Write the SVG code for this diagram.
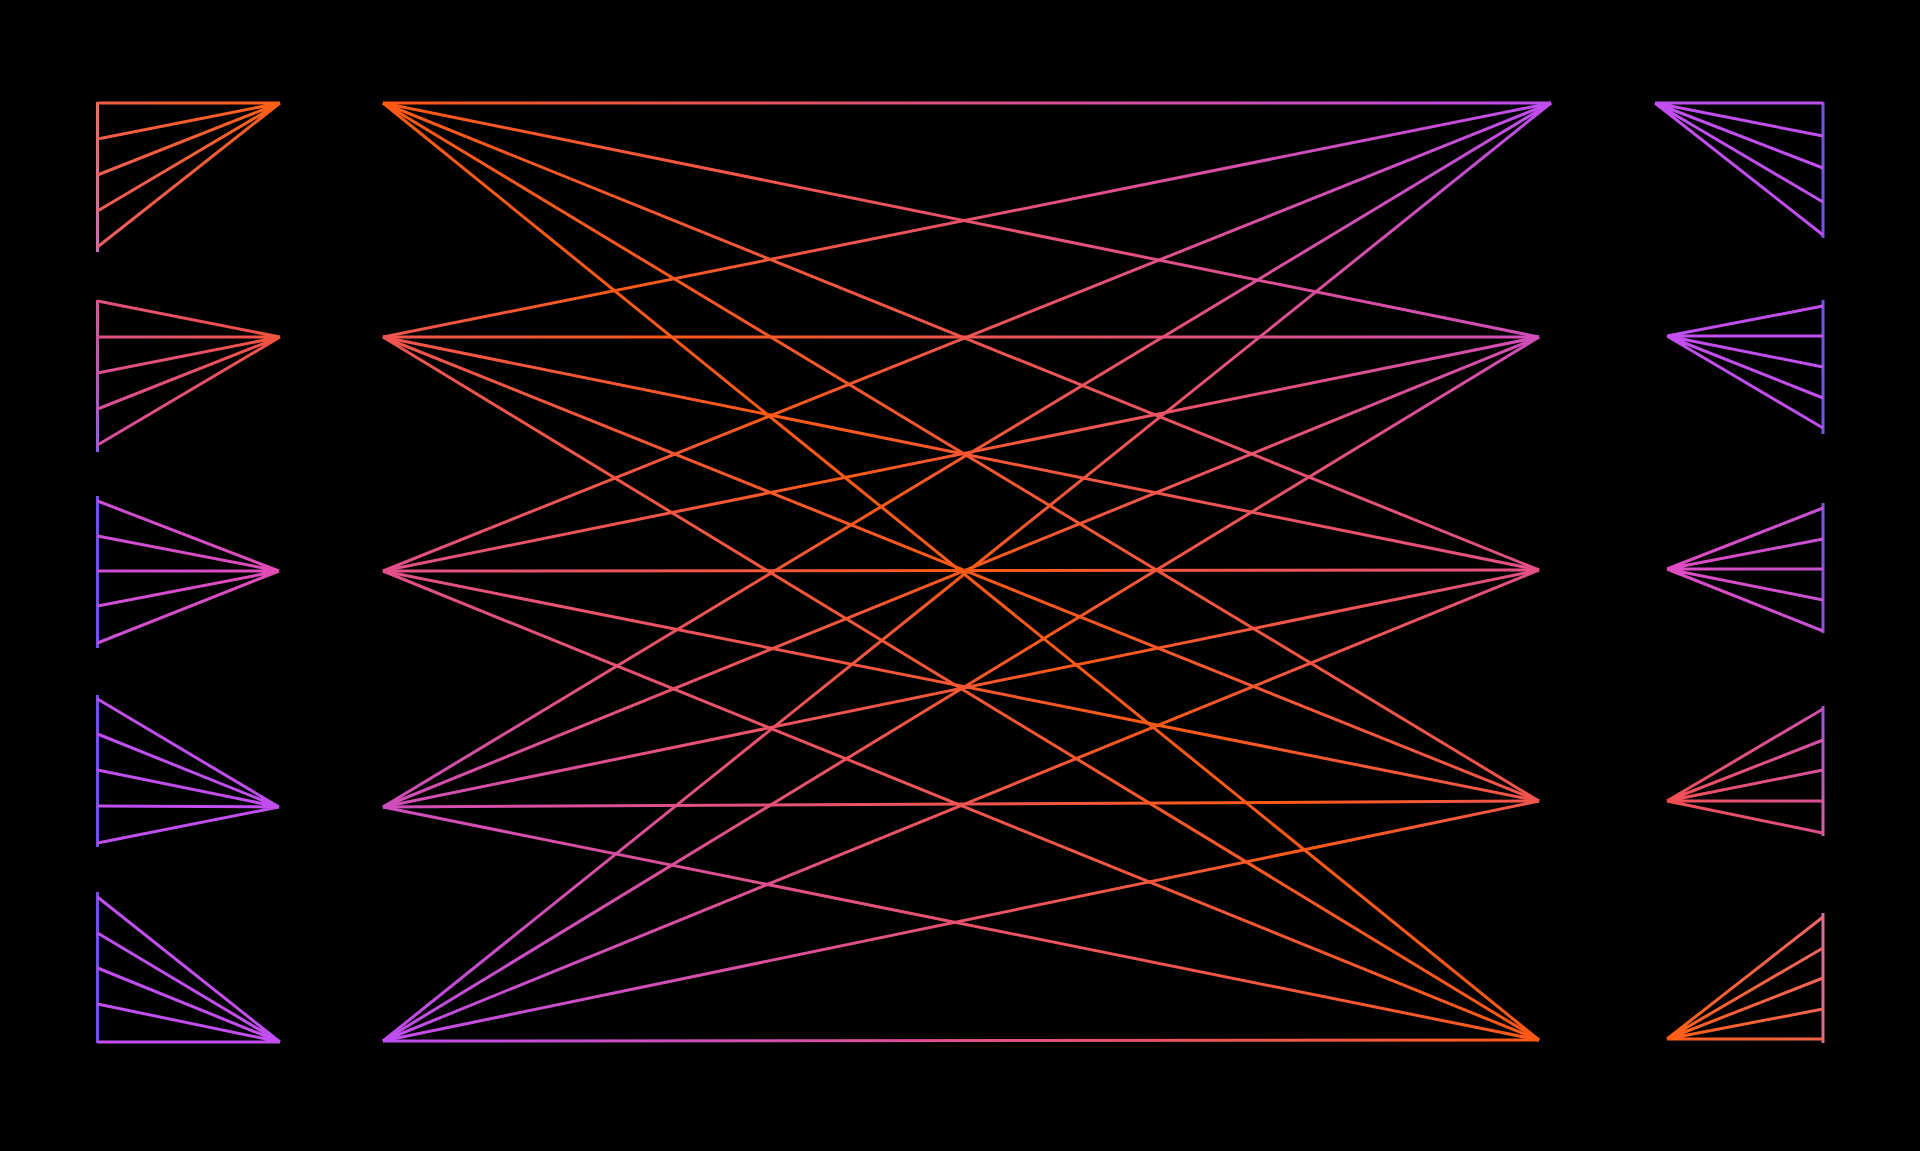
<svg xmlns="http://www.w3.org/2000/svg" width="1920" height="1151" viewBox="0 0 1920 1151">
<defs>
<linearGradient id="gMid" gradientUnits="userSpaceOnUse" x1="1431" y1="0" x2="505" y2="1142">
<stop offset="0" stop-color="#bf4cf2"/><stop offset="0.25" stop-color="#e0508a"/><stop offset="0.5" stop-color="#ff5a14"/><stop offset="0.75" stop-color="#e0508a"/><stop offset="1" stop-color="#bf4cf2"/>
</linearGradient>
<linearGradient id="gL1s" gradientUnits="userSpaceOnUse" x1="280" y1="103" x2="98" y2="250"><stop offset="0" stop-color="#ff5f14"/><stop offset="1" stop-color="#ee5c62"/></linearGradient>
<linearGradient id="gL1v" gradientUnits="userSpaceOnUse" x1="98" y1="103" x2="98" y2="252"><stop offset="0" stop-color="#ee6e66"/><stop offset="1" stop-color="#c870b0"/></linearGradient>
<linearGradient id="gL2s" gradientUnits="userSpaceOnUse" x1="280" y1="337" x2="98" y2="452"><stop offset="0" stop-color="#f4533c"/><stop offset="1" stop-color="#d64ea8"/></linearGradient>
<linearGradient id="gL2v" gradientUnits="userSpaceOnUse" x1="98" y1="301" x2="98" y2="452"><stop offset="0" stop-color="#d85a90"/><stop offset="1" stop-color="#9060e0"/></linearGradient>
<linearGradient id="gL3s" gradientUnits="userSpaceOnUse" x1="280" y1="571" x2="98" y2="571"><stop offset="0" stop-color="#e24cb4"/><stop offset="1" stop-color="#cc4ed8"/></linearGradient>
<linearGradient id="gR3s" gradientUnits="userSpaceOnUse" x1="1667" y1="569" x2="1823" y2="569"><stop offset="0" stop-color="#e04cc0"/><stop offset="1" stop-color="#c850d4"/></linearGradient>
<linearGradient id="gR3v" gradientUnits="userSpaceOnUse" x1="1823" y1="503" x2="1823" y2="633"><stop offset="0" stop-color="#8050f0"/><stop offset="1" stop-color="#9050e0"/></linearGradient>
<linearGradient id="gR4s" gradientUnits="userSpaceOnUse" x1="1667" y1="801" x2="1823" y2="706"><stop offset="0" stop-color="#f25050"/><stop offset="1" stop-color="#d050b0"/></linearGradient>
<linearGradient id="gR4v" gradientUnits="userSpaceOnUse" x1="1823" y1="706" x2="1823" y2="836"><stop offset="0" stop-color="#a050e0"/><stop offset="1" stop-color="#d860a0"/></linearGradient>
<linearGradient id="gR5s" gradientUnits="userSpaceOnUse" x1="1667" y1="1039" x2="1823" y2="917"><stop offset="0" stop-color="#ff5f14"/><stop offset="1" stop-color="#f06668"/></linearGradient>
<linearGradient id="gR5v" gradientUnits="userSpaceOnUse" x1="1823" y1="913" x2="1823" y2="1043"><stop offset="0" stop-color="#d870a0"/><stop offset="1" stop-color="#e06a8a"/></linearGradient>
</defs>
<style>
path,line{fill:none;stroke-width:3;stroke-linecap:butt}
.purple{stroke:#c24ef0}
.violet{stroke:#7450f0}
#connectors line{stroke:url(#gMid)}
</style>
<rect width="1920" height="1151" fill="#000"/>

<g id="fan-l1">
<path stroke="url(#gL1v)" d="M97.5 102 V252"/>
<path stroke="url(#gL1s)" d="M97.5 103 L280 103 M97.5 139 L280 103 M97.5 175 L280 103 M97.5 211 L280 103 M97.5 247 L280 103"/>
</g>
<g id="fan-l2">
<path stroke="url(#gL2v)" d="M97.5 300 V452"/>
<path stroke="url(#gL2s)" d="M97.5 301 L280 337 M97.5 337 L280 337 M97.5 373 L280 337 M97.5 409 L280 337 M97.5 445 L280 337"/>
</g>
<g id="fan-l3">
<path class="violet" d="M97.5 496 V648"/>
<path stroke="url(#gL3s)" d="M97.5 501 L279 571 M97.5 536 L279 571 M97.5 571 L279 571 M97.5 606 L279 571 M97.5 643 L279 571"/>
</g>
<g id="fan-l4">
<path class="violet" d="M97.5 695 V847"/>
<path class="purple" d="M97.5 699 L279 807 M97.5 734 L279 807 M97.5 770 L279 807 M97.5 806 L279 807 M97.5 843 L279 807"/>
</g>
<g id="fan-l5">
<path class="violet" d="M97.5 892 V1043"/>
<path class="purple" d="M97.5 897 L280 1042 M97.5 933 L280 1042 M97.5 968 L280 1042 M97.5 1004 L280 1042 M97.5 1042 L280 1042"/>
</g>

<g id="fan-r1">
<path class="violet" d="M1823 102 V238"/>
<path class="purple" d="M1823 103 L1655 103 M1823 136 L1655 103 M1823 168 L1655 103 M1823 202 L1655 103 M1823 235 L1655 103"/>
</g>
<g id="fan-r2">
<path class="violet" d="M1823 300 V434"/>
<path class="purple" d="M1823 306 L1667 336 M1823 336 L1667 336 M1823 367 L1667 336 M1823 398 L1667 336 M1823 428 L1667 336"/>
</g>
<g id="fan-r3">
<path stroke="url(#gR3v)" d="M1823 503 V633"/>
<path stroke="url(#gR3s)" d="M1823 508 L1667 569 M1823 539 L1667 569 M1823 569 L1667 569 M1823 600 L1667 569 M1823 631 L1667 569"/>
</g>
<g id="fan-r4">
<path stroke="url(#gR4v)" d="M1823 706 V836"/>
<path stroke="url(#gR4s)" d="M1823 709 L1667 801 M1823 740 L1667 801 M1823 770 L1667 801 M1823 801 L1667 801 M1823 833 L1667 801"/>
</g>
<g id="fan-r5">
<path stroke="url(#gR5v)" d="M1823 913 V1043"/>
<path stroke="url(#gR5s)" d="M1823 917 L1667 1039 M1823 948 L1667 1039 M1823 978 L1667 1039 M1823 1009 L1667 1039 M1823 1039 L1667 1039"/>
</g>

<g id="connectors">
<line x1="383" y1="103" x2="1551" y2="103"/>
<line x1="383" y1="103" x2="1539" y2="337"/>
<line x1="383" y1="103" x2="1539" y2="570"/>
<line x1="383" y1="103" x2="1539" y2="801"/>
<line x1="383" y1="103" x2="1539" y2="1040"/>
<line x1="383" y1="337" x2="1551" y2="103"/>
<line x1="383" y1="337" x2="1539" y2="337"/>
<line x1="383" y1="337" x2="1539" y2="570"/>
<line x1="383" y1="337" x2="1539" y2="801"/>
<line x1="383" y1="337" x2="1539" y2="1040"/>
<line x1="383" y1="571" x2="1551" y2="103"/>
<line x1="383" y1="571" x2="1539" y2="337"/>
<line x1="383" y1="571" x2="1539" y2="570"/>
<line x1="383" y1="571" x2="1539" y2="801"/>
<line x1="383" y1="571" x2="1539" y2="1040"/>
<line x1="383" y1="807" x2="1551" y2="103"/>
<line x1="383" y1="807" x2="1539" y2="337"/>
<line x1="383" y1="807" x2="1539" y2="570"/>
<line x1="383" y1="807" x2="1539" y2="801"/>
<line x1="383" y1="807" x2="1539" y2="1040"/>
<line x1="383" y1="1041" x2="1551" y2="103"/>
<line x1="383" y1="1041" x2="1539" y2="337"/>
<line x1="383" y1="1041" x2="1539" y2="570"/>
<line x1="383" y1="1041" x2="1539" y2="801"/>
<line x1="383" y1="1041" x2="1539" y2="1040"/>
</g>
</svg>
